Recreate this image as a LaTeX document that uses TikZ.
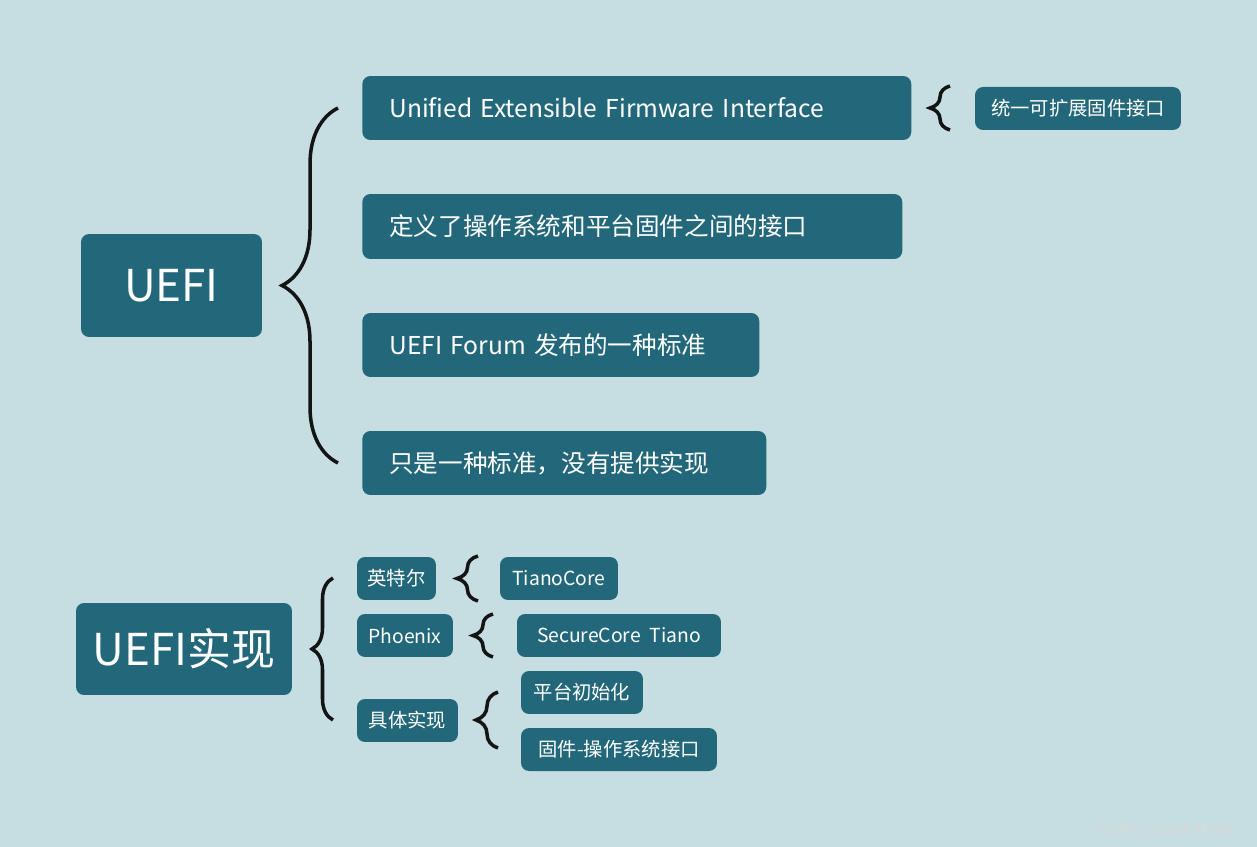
\documentclass[tikz,border=0pt]{standalone}
\usepackage{fontspec}
\setmainfont{Noto Sans CJK SC}
\usetikzlibrary{decorations.pathreplacing}
\definecolor{bg}{RGB}{198,222,226}
\definecolor{petrol}{RGB}{35,104,122}
\definecolor{klammer}{RGB}{20,20,20}

\begin{document}
\begin{tikzpicture}[x=0.02cm, y=-0.02cm,
    box/.style={fill=petrol, text=white, rounded corners=0.16cm, inner sep=0pt, minimum height=0.86cm, align=center, font=\fontsize{11}{13}\selectfont},
    wide/.style={box, anchor=west, minimum height=1.28cm, align=left, inner xsep=0.54cm, font=\fontsize{14}{16}\selectfont},
    big/.style={box, font=\fontsize{25}{28}\selectfont},
    klam/.style={draw=klammer, line width=2pt, decorate, decoration={brace, amplitude=#1}}]

    \fill[bg] (0,0) rectangle (1257,847);

    % upper part
    \node[big, minimum width=3.62cm, minimum height=2.06cm] (uefi) at (171.5,285.5) {UEFI};
    \node[wide, minimum width=10.98cm, text width=9.9cm] (full) at (362,108) {Unified Extensible Firmware Interface};
    \node[wide, minimum width=10.8cm, text width=9.72cm, minimum height=1.3cm] (define) at (362,226.5) {定义了操作系统和平台固件之间的接口};
    \node[wide, minimum width=7.94cm, text width=6.86cm] (forum) at (362,345) {UEFI Forum 发布的一种标准};
    \node[wide, minimum width=8.08cm, text width=7cm] (std) at (362,463) {只是一种标准，没有提供实现};
    \node[box, minimum width=4.12cm] (cn) at (1078,108.5) {统一可扩展固件接口};

    \draw[klam=1.12cm] (338,463) -- (338,108);
    \draw[klam=0.4cm] (950,130) -- (950,86);

    % lower part
    \node[big, minimum width=4.32cm, minimum height=1.84cm] (impl) at (184,649) {UEFI实现};
    \node[box, minimum width=1.58cm] (intel) at (396.5,578.5) {英特尔};
    \node[box, minimum width=2.36cm] (tiano) at (559,578.5) {TianoCore};
    \node[box, minimum width=1.92cm] (phoenix) at (405,635.5) {Phoenix};
    \node[box, minimum width=4.08cm] (secure) at (619,635.5) {SecureCore\ \ Tiano};
    \node[box, minimum width=2.02cm] (concrete) at (407.5,720.5) {具体实现};
    \node[box, minimum width=2.44cm] (pi) at (582,692.5) {平台初始化};
    \node[box, minimum width=3.92cm] (fwos) at (619,749.5) {固件-操作系统接口};

    \draw[klam=0.42cm] (333,720) -- (333,578);
    \draw[klam=0.42cm] (478,601) -- (478,556);
    \draw[klam=0.4cm] (493,657) -- (493,614);
    \draw[klam=0.44cm] (498,748) -- (498,692);

    \node[text=white!70!gray, font=\fontsize{8}{10}\selectfont] (mark) at (1165,830) {CSDN @Ocean-Heart};
\end{tikzpicture}
\end{document}
